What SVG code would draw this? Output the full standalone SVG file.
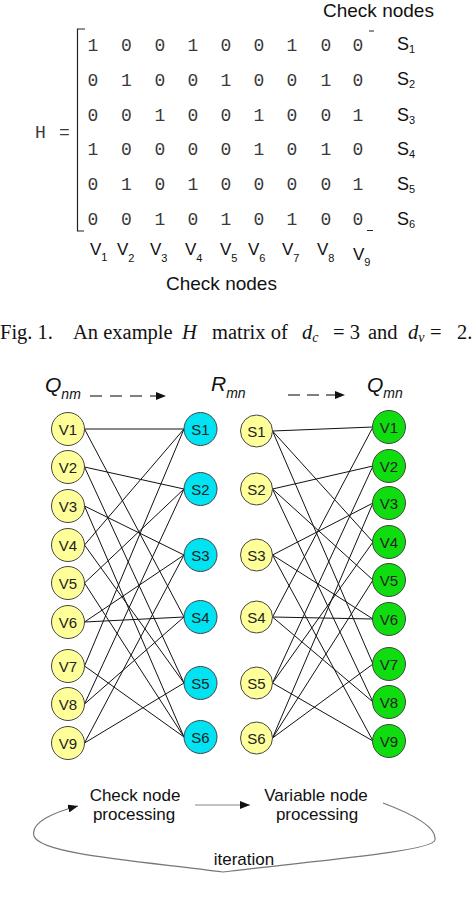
<svg xmlns="http://www.w3.org/2000/svg" width="474" height="906" viewBox="0 0 474 906">
<style>
.mono{font-family:"Liberation Mono","DejaVu Sans Mono",monospace;font-size:18px;fill:#3a3a3a}
.sans{font-family:"Liberation Sans",Arial,sans-serif;fill:#111}
.ser{font-family:"Liberation Serif","Times New Roman",serif;font-size:20.5px;fill:#111}
.it{font-style:italic}
.lbl{font-family:"Liberation Sans",Arial,sans-serif;font-size:15px;fill:#222;text-anchor:middle}
.vy{fill:#FFFF99;stroke:#444;stroke-width:1}
.sc{fill:#00E3F2;stroke:#444;stroke-width:1}
.vg{fill:#10DD10;stroke:#444;stroke-width:1}
.e{stroke:#111;stroke-width:1;fill:none}
</style>
<defs>
<marker id="ah" markerWidth="10" markerHeight="8" refX="10" refY="4" orient="auto" markerUnits="userSpaceOnUse">
<path d="M0,0 L10,4 L0,8 Z" fill="#111"/>
</marker>
</defs>
<rect width="474" height="906" fill="#fff"/>

<!-- Matrix -->
<g id="matrix">
<text class="sans" x="323" y="17" font-size="19">Check nodes</text>
<text class="mono" x="35" y="138">H</text>
<text class="mono" x="59" y="138">=</text>
<path d="M85,29 L77.5,29 L77.5,231 L84,231" stroke="#222" stroke-width="1.2" fill="none"/>
<path d="M369,31 L374,31 M367,230.5 L373,230.5" stroke="#222" stroke-width="1.2"/>
<g class="mono" text-anchor="middle">
<text y="51"><tspan x="93">1</tspan><tspan x="126.5">0</tspan><tspan x="160">0</tspan><tspan x="193">1</tspan><tspan x="226">0</tspan><tspan x="259">0</tspan><tspan x="292">1</tspan><tspan x="326">0</tspan><tspan x="358">0</tspan></text>
<text y="86"><tspan x="93">0</tspan><tspan x="126.5">1</tspan><tspan x="160">0</tspan><tspan x="193">0</tspan><tspan x="226">1</tspan><tspan x="259">0</tspan><tspan x="292">0</tspan><tspan x="326">1</tspan><tspan x="358">0</tspan></text>
<text y="121"><tspan x="93">0</tspan><tspan x="126.5">0</tspan><tspan x="160">1</tspan><tspan x="193">0</tspan><tspan x="226">0</tspan><tspan x="259">1</tspan><tspan x="292">0</tspan><tspan x="326">0</tspan><tspan x="358">1</tspan></text>
<text y="155"><tspan x="93">1</tspan><tspan x="126.5">0</tspan><tspan x="160">0</tspan><tspan x="193">0</tspan><tspan x="226">0</tspan><tspan x="259">1</tspan><tspan x="292">0</tspan><tspan x="326">1</tspan><tspan x="358">0</tspan></text>
<text y="190"><tspan x="93">0</tspan><tspan x="126.5">1</tspan><tspan x="160">0</tspan><tspan x="193">1</tspan><tspan x="226">0</tspan><tspan x="259">0</tspan><tspan x="292">0</tspan><tspan x="326">0</tspan><tspan x="358">1</tspan></text>
<text y="225"><tspan x="93">0</tspan><tspan x="126.5">0</tspan><tspan x="160">1</tspan><tspan x="193">0</tspan><tspan x="226">1</tspan><tspan x="259">0</tspan><tspan x="292">1</tspan><tspan x="326">0</tspan><tspan x="358">0</tspan></text>
</g>
<g class="sans" font-size="18">
<text x="397" y="50">S<tspan font-size="11" dy="3">1</tspan></text>
<text x="397" y="85">S<tspan font-size="11" dy="3">2</tspan></text>
<text x="397" y="121">S<tspan font-size="11" dy="3">3</tspan></text>
<text x="397" y="155">S<tspan font-size="11" dy="3">4</tspan></text>
<text x="397" y="190">S<tspan font-size="11" dy="3">5</tspan></text>
<text x="397" y="225">S<tspan font-size="11" dy="3">6</tspan></text>
</g>
<g class="sans" font-size="17">
<text x="90" y="255">V<tspan font-size="11" dy="6">1</tspan></text>
<text x="117" y="255">V<tspan font-size="11" dy="7">2</tspan></text>
<text x="150" y="255">V<tspan font-size="11" dy="7">3</tspan></text>
<text x="185" y="255">V<tspan font-size="11" dy="7">4</tspan></text>
<text x="220" y="255">V<tspan font-size="11" dy="7">5</tspan></text>
<text x="248" y="255">V<tspan font-size="11" dy="7">6</tspan></text>
<text x="282" y="255">V<tspan font-size="11" dy="7">7</tspan></text>
<text x="317" y="255">V<tspan font-size="11" dy="7">8</tspan></text>
<text x="353" y="260">V<tspan font-size="11" dy="6">9</tspan></text>
</g>
<text class="sans" x="166" y="290" font-size="19">Check nodes</text>
</g>

<!-- Caption -->
<g id="caption" class="ser">
<text x="0" y="339">Fig. 1.</text>
<text x="73" y="339">An example</text>
<text x="182" y="339" class="it">H</text>
<text x="212" y="339">matrix of</text>
<text x="302" y="339" class="it">d<tspan font-size="14" dy="3">c</tspan></text>
<text x="333" y="339">= 3</text>
<text x="368" y="339">and</text>
<text x="408" y="339" class="it">d<tspan font-size="14" dy="3">v</tspan></text>
<text x="430" y="339">=</text>
<text x="457" y="339">2.</text>
</g>

<!-- Headers -->
<g id="headers" class="sans it">
<text x="45" y="392" font-size="21">Q<tspan font-size="14" dy="7">nm</tspan></text>
<text x="211" y="391" font-size="21">R<tspan font-size="14" dy="7">mn</tspan></text>
<text x="367" y="392" font-size="21">Q<tspan font-size="14" dy="6">mn</tspan></text>
</g>

<!-- Connectors -->
<g id="connectors">
<line x1="90" y1="396" x2="166" y2="396" stroke="#555" stroke-width="1.5" stroke-dasharray="12 8" marker-end="url(#ah)"/>
<line x1="288" y1="395" x2="345" y2="395" stroke="#555" stroke-width="1.5" stroke-dasharray="12 7" marker-end="url(#ah)"/>
<g class="e">
<line x1="84.5" y1="429" x2="184" y2="429"/>
<line x1="84.5" y1="545" x2="184" y2="429"/>
<line x1="84.5" y1="666" x2="184" y2="429"/>
<line x1="84.5" y1="467" x2="184" y2="489"/>
<line x1="84.5" y1="583" x2="184" y2="489"/>
<line x1="84.5" y1="704" x2="184" y2="489"/>
<line x1="84.5" y1="506" x2="184" y2="555"/>
<line x1="84.5" y1="622" x2="184" y2="555"/>
<line x1="84.5" y1="743" x2="184" y2="555"/>
<line x1="84.5" y1="429" x2="184" y2="617"/>
<line x1="84.5" y1="622" x2="184" y2="617"/>
<line x1="84.5" y1="704" x2="184" y2="617"/>
<line x1="84.5" y1="467" x2="184" y2="683"/>
<line x1="84.5" y1="545" x2="184" y2="683"/>
<line x1="84.5" y1="743" x2="184" y2="683"/>
<line x1="84.5" y1="506" x2="184" y2="737"/>
<line x1="84.5" y1="583" x2="184" y2="737"/>
<line x1="84.5" y1="666" x2="184" y2="737"/>

<line x1="272.5" y1="431" x2="373" y2="427"/>
<line x1="272.5" y1="431" x2="373" y2="542"/>
<line x1="272.5" y1="431" x2="373" y2="664"/>
<line x1="272.5" y1="489" x2="373" y2="466"/>
<line x1="272.5" y1="489" x2="373" y2="580"/>
<line x1="272.5" y1="489" x2="373" y2="702"/>
<line x1="272.5" y1="555" x2="373" y2="503"/>
<line x1="272.5" y1="555" x2="373" y2="619"/>
<line x1="272.5" y1="555" x2="373" y2="741"/>
<line x1="272.5" y1="617" x2="373" y2="427"/>
<line x1="272.5" y1="617" x2="373" y2="619"/>
<line x1="272.5" y1="617" x2="373" y2="702"/>
<line x1="272.5" y1="683" x2="373" y2="466"/>
<line x1="272.5" y1="683" x2="373" y2="542"/>
<line x1="272.5" y1="683" x2="373" y2="741"/>
<line x1="272.5" y1="738" x2="373" y2="503"/>
<line x1="272.5" y1="738" x2="373" y2="580"/>
<line x1="272.5" y1="738" x2="373" y2="664"/>
</g>
<line x1="195" y1="805" x2="250" y2="805" stroke="#888" stroke-width="1.2" marker-end="url(#ah)"/>
<path d="M383,803 C415,815 437,828 435,840 C433,852 300,862 223,872 C150,862 40,855 34,836 C30,822 55,812 78,806" stroke="#777" stroke-width="1.2" fill="none" marker-end="url(#ah)"/>
</g>

<!-- Left variable nodes -->
<g id="lv1"><circle class="vy" cx="68" cy="429" r="16.5"/><text class="lbl" x="68" y="434.5">V1</text></g>
<g id="lv2"><circle class="vy" cx="68" cy="467" r="16.5"/><text class="lbl" x="68" y="472.5">V2</text></g>
<g id="lv3"><circle class="vy" cx="68" cy="506" r="16.5"/><text class="lbl" x="68" y="511.5">V3</text></g>
<g id="lv4"><circle class="vy" cx="68" cy="545" r="16.5"/><text class="lbl" x="68" y="550.5">V4</text></g>
<g id="lv5"><circle class="vy" cx="68" cy="583" r="16.5"/><text class="lbl" x="68" y="588.5">V5</text></g>
<g id="lv6"><circle class="vy" cx="68" cy="622" r="16.5"/><text class="lbl" x="68" y="627.5">V6</text></g>
<g id="lv7"><circle class="vy" cx="68" cy="666" r="16.5"/><text class="lbl" x="68" y="671.5">V7</text></g>
<g id="lv8"><circle class="vy" cx="68" cy="704" r="16.5"/><text class="lbl" x="68" y="709.5">V8</text></g>
<g id="lv9"><circle class="vy" cx="68" cy="743" r="16.5"/><text class="lbl" x="68" y="748.5">V9</text></g>

<!-- Left check nodes -->
<g id="ls1"><circle class="sc" cx="200.5" cy="429" r="16.5"/><text class="lbl" x="200.5" y="434.5">S1</text></g>
<g id="ls2"><circle class="sc" cx="200.5" cy="489" r="16.5"/><text class="lbl" x="200.5" y="494.5">S2</text></g>
<g id="ls3"><circle class="sc" cx="200.5" cy="555" r="16.5"/><text class="lbl" x="200.5" y="560.5">S3</text></g>
<g id="ls4"><circle class="sc" cx="200.5" cy="617" r="16.5"/><text class="lbl" x="200.5" y="622.5">S4</text></g>
<g id="ls5"><circle class="sc" cx="200.5" cy="683" r="16.5"/><text class="lbl" x="200.5" y="688.5">S5</text></g>
<g id="ls6"><circle class="sc" cx="200.5" cy="737" r="16.5"/><text class="lbl" x="200.5" y="742.5">S6</text></g>

<!-- Right check nodes -->
<g id="rs1"><circle class="vy" cx="256.5" cy="431" r="16"/><text class="lbl" x="256.5" y="436.5">S1</text></g>
<g id="rs2"><circle class="vy" cx="256.5" cy="489" r="16"/><text class="lbl" x="256.5" y="494.5">S2</text></g>
<g id="rs3"><circle class="vy" cx="256.5" cy="555" r="16"/><text class="lbl" x="256.5" y="560.5">S3</text></g>
<g id="rs4"><circle class="vy" cx="256.5" cy="617" r="16"/><text class="lbl" x="256.5" y="622.5">S4</text></g>
<g id="rs5"><circle class="vy" cx="256.5" cy="683" r="16"/><text class="lbl" x="256.5" y="688.5">S5</text></g>
<g id="rs6"><circle class="vy" cx="256.5" cy="738" r="16"/><text class="lbl" x="256.5" y="743.5">S6</text></g>

<!-- Right variable nodes -->
<g id="rv1"><circle class="vg" cx="389" cy="427" r="16.5"/><text class="lbl" x="389" y="432.5">V1</text></g>
<g id="rv2"><circle class="vg" cx="389" cy="466" r="16.5"/><text class="lbl" x="389" y="471.5">V2</text></g>
<g id="rv3"><circle class="vg" cx="389" cy="503" r="16.5"/><text class="lbl" x="389" y="508.5">V3</text></g>
<g id="rv4"><circle class="vg" cx="389" cy="542" r="16.5"/><text class="lbl" x="389" y="547.5">V4</text></g>
<g id="rv5"><circle class="vg" cx="389" cy="580" r="16.5"/><text class="lbl" x="389" y="585.5">V5</text></g>
<g id="rv6"><circle class="vg" cx="389" cy="619" r="16.5"/><text class="lbl" x="389" y="624.5">V6</text></g>
<g id="rv7"><circle class="vg" cx="389" cy="664" r="16.5"/><text class="lbl" x="389" y="669.5">V7</text></g>
<g id="rv8"><circle class="vg" cx="389" cy="702" r="16.5"/><text class="lbl" x="389" y="707.5">V8</text></g>
<g id="rv9"><circle class="vg" cx="389" cy="741" r="16.5"/><text class="lbl" x="389" y="746.5">V9</text></g>

<!-- Processing loop -->
<g id="check-proc" class="sans" font-size="17" text-anchor="middle">
<text x="135" y="801">Check node</text>
<text x="134" y="820">processing</text>
</g>
<g id="var-proc" class="sans" font-size="17" text-anchor="middle">
<text x="316" y="801">Variable node</text>
<text x="317" y="820">processing</text>
</g>
<g id="iteration"><text class="sans" font-size="17" x="244" y="865" text-anchor="middle">iteration</text></g>
</svg>
